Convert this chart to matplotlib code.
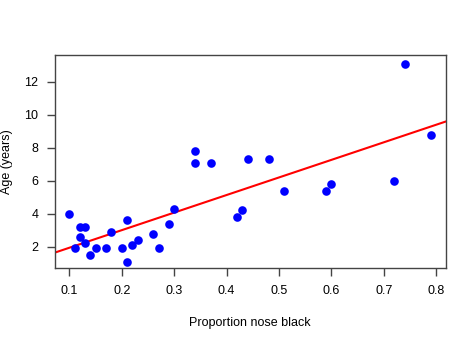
import numpy as np
import matplotlib
matplotlib.use("Agg")
import matplotlib.pyplot as plt

plt.rcParams["font.family"] = ["Liberation Sans", "DejaVu Sans"]

# -------------------------
# Data: lion nose proportion black vs age
# -------------------------
prop_black = [0.21, 0.14, 0.11, 0.13, 0.12, 0.13, 0.12, 0.18, 0.23, 0.22,
              0.20, 0.17, 0.15, 0.27, 0.26, 0.21, 0.30, 0.42, 0.43, 0.59,
              0.60, 0.72, 0.29, 0.10, 0.48, 0.44, 0.34, 0.37, 0.34, 0.74,
              0.79, 0.51]
age = [1.1, 1.5, 1.9, 2.2, 2.6, 3.2, 3.2, 2.9, 2.4, 2.1,
       1.9, 1.9, 1.9, 1.9, 2.8, 3.6, 4.3, 3.8, 4.2, 5.4,
       5.8, 6.0, 3.4, 4.0, 7.3, 7.3, 7.8, 7.1, 7.1, 13.1,
       8.8, 5.4]

x_ticks = [0.1, 0.2, 0.3, 0.4, 0.5, 0.6, 0.7, 0.8]
y_ticks = [2, 4, 6, 8, 10, 12]

slope, intercept = np.polyfit(prop_black, age, 1)

# -------------------------
# Plot
# -------------------------
fig = plt.figure(figsize=(4.74, 3.38), dpi=100)
ax = fig.add_axes([0.116, 0.206, 0.824, 0.631])

ax.plot(prop_black, age, "o", color="#0000ff", markersize=6.2,
        markeredgewidth=0, zorder=3)

xlim = (0.0723, 0.818)
xs = np.array(xlim)
ax.plot(xs, intercept + slope * xs, color="#ff0000", linewidth=1.5, zorder=2)

ax.set_xlim(*xlim)
ax.set_ylim(0.69, 13.62)
ax.set_xticks(x_ticks)
ax.set_xticklabels([str(t) for t in x_ticks])
ax.set_yticks(y_ticks)

for s in ax.spines.values():
    s.set_color("#444444")
    s.set_linewidth(1.0)

ax.tick_params(direction="out", length=6, width=1.0, color="#444444",
               labelsize=9, pad=6)

ax.set_xlabel("Proportion nose black", fontsize=9)
ax.set_ylabel("Age (years)", fontsize=9)
ax.xaxis.set_label_coords(0.5, -0.228)
ax.yaxis.set_label_coords(-0.107, 0.5)

fig.savefig("out.png", dpi=100)
